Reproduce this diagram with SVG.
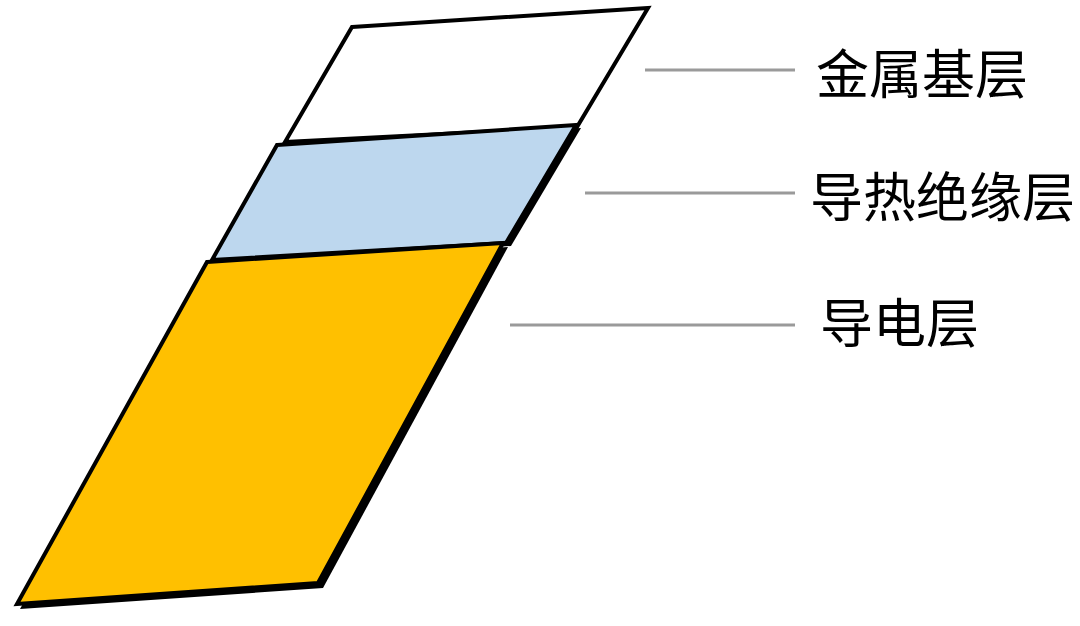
<svg xmlns="http://www.w3.org/2000/svg" width="1080" height="626" viewBox="0 0 1080 626">
<style>
.edge{stroke:#000;stroke-width:4;stroke-linejoin:miter}
.shadow{fill:#000}
.lead{stroke:#9a9a9a;stroke-width:3;fill:none}
.lbl{font-family:"Noto Sans CJK SC","Noto Sans",sans-serif;font-size:53px;fill:#000}
</style>
<rect width="1080" height="626" fill="#fff"/>
<g id="metal-layer">
<polygon class="edge" fill="#fff" points="352,27 648,8 577,127 285,142"/>
</g>
<g id="insulation-layer">
<polygon class="shadow" points="280,148 581,128 511,246 215,263"/>
<polygon class="edge" fill="#BDD7EE" points="277,145 576,125 506,243 212,260"/>
</g>
<g id="conductive-layer">
<polygon class="shadow" points="211,266 508,247 323,588 20,609"/>
<polygon class="edge" fill="#FFC000" points="207,262 503,243 318,583 17,604"/>
</g>
<g id="connectors">
<line class="lead" x1="645" y1="70" x2="795" y2="70"/>
<line class="lead" x1="585" y1="193" x2="795" y2="193"/>
<line class="lead" x1="510" y1="325" x2="795" y2="325"/>
</g>
<g id="label-metal"><text class="lbl" x="816" y="94">金属基层</text></g>
<g id="label-insulation"><text class="lbl" x="810" y="217">导热绝缘层</text></g>
<g id="label-conductive"><text class="lbl" x="820" y="343">导电层</text></g>
</svg>
